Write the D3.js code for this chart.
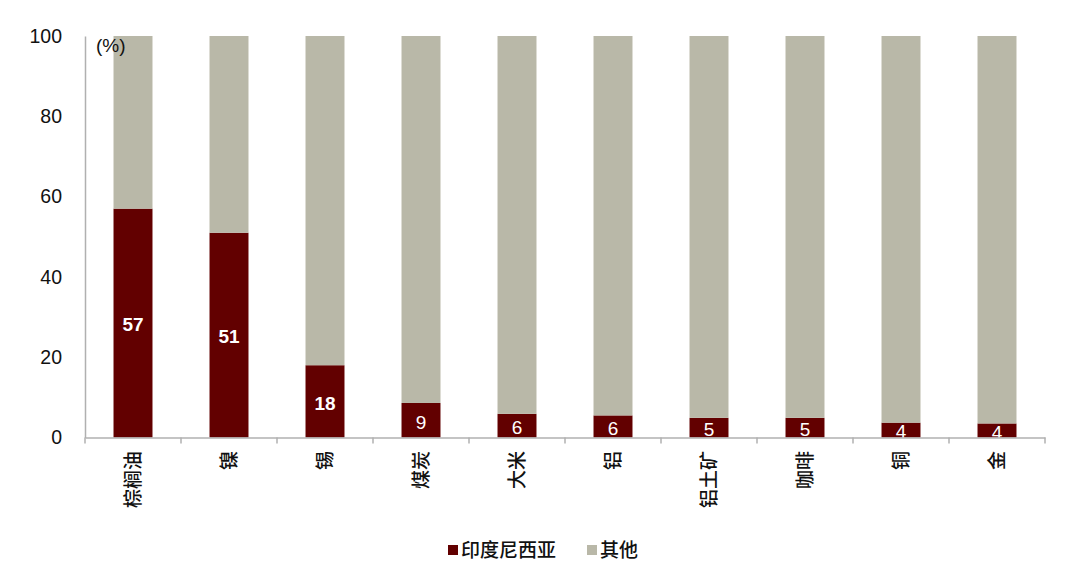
<!DOCTYPE html>
<html>
<head>
<meta charset="utf-8">
<script src="https://cdn.jsdelivr.net/npm/d3@7"></script>
<style>
body { margin: 0; background: #fff; }
text { font-family: Arial, "Liberation Sans", "Noto Sans CJK SC", sans-serif; }
</style>
</head>
<body>
<div class="content"></div>
<script>
var categories = ["棕榈油", "镍", "锡", "煤炭", "大米", "铝", "铝土矿", "咖啡", "铜", "金"];
var indonesia = [57, 51, 18, 8.6, 5.9, 5.5, 4.9, 4.9, 3.7, 3.5];
var others = indonesia.map(function(v){ return 100 - v; });
var yTicks = [0, 20, 40, 60, 80, 100];
var seriesNames = ["印度尼西亚", "其他"];
var colors = ["#620000", "#b9b8a8"];

function drawChart() {
var width = 1080, height = 583;
var mLeft = 85, mRight = 1045, mTop = 36, mBottom = 437.5;

var svg = d3.select(".content").append("svg").attr("width", width).attr("height", height);

var x = d3.scaleBand().domain(categories).range([mLeft, mRight]).paddingInner(0.594).paddingOuter(0.297);
var y = d3.scaleLinear().domain([0, 100]).range([mBottom, mTop]);

var rows = categories.map(function(c, i){ return {cat: c, a: indonesia[i], b: others[i]}; });
var stack = d3.stack().keys(["a", "b"])(rows);

svg.selectAll("g.layer").data(stack).enter().append("g")
	.attr("fill", function(d, i){ return colors[i]; })
	.selectAll("rect").data(function(d){ return d; }).enter().append("rect")
	.attr("x", function(d){ return x(d.data.cat); })
	.attr("width", x.bandwidth())
	.attr("y", function(d){ return y(d[1]); })
	.attr("height", function(d){ return y(d[0]) - y(d[1]); });

// value labels
svg.selectAll("text.val").data(rows).enter().append("text")
	.attr("class", "val")
	.attr("x", function(d){ return x(d.cat) + x.bandwidth() / 2; })
	.attr("y", function(d){ return (y(0) + y(d.a)) / 2 + 1.5; })
	.attr("dy", "0.36em")
	.attr("text-anchor", "middle")
	.attr("fill", "#fff")
	.attr("font-size", 19)
	.attr("font-weight", function(d){ return d.a >= 10 ? "bold" : "normal"; })
	.text(function(d){ return Math.round(d.a); });

// y axis
var yAxis = svg.append("g").attr("transform", "translate(" + mLeft + ",0)")
	.call(d3.axisLeft(y).tickValues(yTicks).tickSize(0).tickPadding(23));
yAxis.select(".domain").attr("stroke", "#b0b0b0").attr("stroke-width", 1.5);
yAxis.selectAll("text").attr("font-size", 19.5).attr("fill", "#111").attr("font-family", "Arial, 'Liberation Sans', sans-serif");

// x axis
var xAxis = svg.append("g").attr("transform", "translate(0," + mBottom + ")")
	.call(d3.axisBottom(x).tickSize(0).tickFormat(""));
xAxis.select(".domain").attr("stroke", "#b0b0b0").attr("stroke-width", 1.5);
svg.append("g").selectAll("line").data(d3.range(categories.length + 1)).enter().append("line")
	.attr("x1", function(i){ return mLeft + i * x.step(); })
	.attr("x2", function(i){ return mLeft + i * x.step(); })
	.attr("y1", mBottom).attr("y2", mBottom + 6)
	.attr("stroke", "#b0b0b0").attr("stroke-width", 1.5);

svg.append("g").selectAll("text").data(categories).enter().append("text")
	.attr("transform", function(d){ return "translate(" + (x(d) + x.bandwidth() / 2) + "," + 451 + ") rotate(-90)"; })
	.attr("dy", "0.36em")
	.attr("text-anchor", "end")
	.attr("font-size", 19)
	.attr("font-weight", 500)
	.attr("fill", "#111")
	.attr("font-family", "'Noto Sans CJK SC', sans-serif")
	.text(function(d){ return d; });

svg.append("text").attr("x", 96).attr("y", 52).attr("font-size", 19).attr("fill", "#111").text("(%)");

// legend
var legend = svg.append("g").attr("transform", "translate(448,550)");
var lx = [0, 139];
seriesNames.forEach(function(name, i){
	legend.append("rect").attr("x", lx[i]).attr("y", -5).attr("width", 10).attr("height", 10).attr("fill", colors[i]);
	legend.append("text").attr("x", lx[i] + 13).attr("y", 0).attr("dy", "0.36em")
		.attr("font-size", 19).attr("font-weight", 500).attr("fill", "#111")
		.attr("font-family", "'Noto Sans CJK SC', sans-serif").text(name);
});
}
drawChart();
</script>
</body>
</html>
